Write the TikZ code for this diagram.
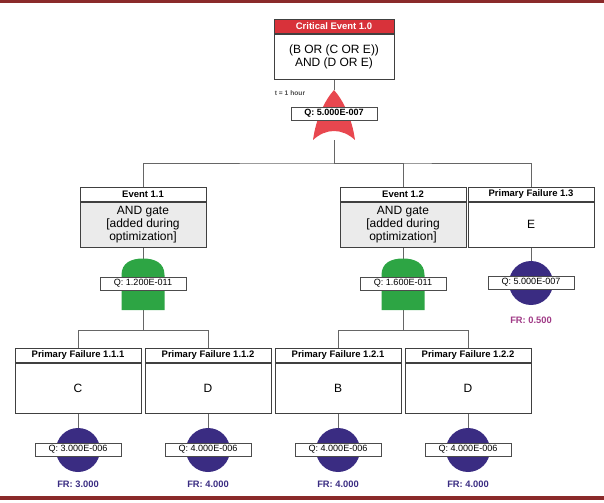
\documentclass[tikz,border=0pt]{standalone}
\usepackage{fontspec}
\setmainfont{Liberation Sans}
\usetikzlibrary{backgrounds}
\begin{document}
\begin{tikzpicture}[x=0.75pt,y=-0.75pt,
  hdr/.style={draw=black!75,line width=0.6pt,fill=white,minimum width=94.5pt,minimum height=10.5pt,inner sep=0pt,font=\fontsize{7.1}{8}\selectfont\bfseries},
  bodyg/.style={draw=black!75,line width=0.6pt,fill=black!8!white,minimum width=94.5pt,minimum height=33.75pt,inner sep=0pt,font=\fontsize{9}{9.6}\selectfont,align=center,anchor=north},
  bodyw/.style={bodyg,fill=white},
  bodyb/.style={bodyw,minimum height=37.5pt},
  qbox/.style={draw=black!70,line width=0.5pt,fill=white,minimum width=64.5pt,minimum height=9.8pt,inner sep=0pt,font=\fontsize{6.8}{7}\selectfont},
  gnode/.style={inner sep=0pt,minimum width=32pt,minimum height=37.5pt},
  circ/.style={circle,fill=basic,draw=none,minimum size=33pt,inner sep=0pt},
  fr/.style={font=\fontsize{7}{8}\selectfont\bfseries,text=basic},
  wire/.style={draw=black!60,line width=0.7pt}]
\definecolor{crit}{HTML}{D8323A}
\definecolor{orred}{HTML}{E8474F}
\definecolor{andg}{HTML}{2DA544}
\definecolor{basic}{HTML}{3A2C82}
\definecolor{frm}{HTML}{A03A86}
\definecolor{band}{HTML}{8A2A2A}
\useasboundingbox (0,0) rectangle (604,503);
\fill[band] (0,0) rectangle (604,3);
\fill[band] (0,496) rectangle (604,500);
% top
\node[hdr,fill=crit,text=white,minimum width=90pt,anchor=north] (ceh) at (334,19) {Critical Event 1.0};
\node[bodyw,minimum width=90pt] (ceb) at (ceh.south) {(B OR (C OR E))\\AND (D OR E)};
\node[gnode] (g0) at (334,115) {};
\fill[orred] (313,140) .. controls (316,118) and (325,100) .. (334,90) .. controls (343,100) and (352,118) .. (355,140) .. controls (342,128) and (326,128) .. (313,140);
\node[qbox] (q0) at (334,113.5) {\bfseries Q: 5.000E-007};
\node[font=\fontsize{5}{6}\selectfont\bfseries,text=black!70] (t0) at (290,93) {t = 1 hour};
\coordinate (bus0) at (334,163);
% level 1
\node[hdr,anchor=north] (e11h) at (143,187) {Event 1.1};
\node[bodyg] (e11b) at (e11h.south) {AND gate\\{[}added during\\optimization{]}};
\node[hdr,anchor=north] (e12h) at (403,187) {Event 1.2};
\node[bodyg] (e12b) at (e12h.south) {AND gate\\{[}added during\\optimization{]}};
\node[hdr,anchor=north] (p13h) at (531,187) {Primary Failure 1.3};
\node[bodyw] (p13b) at (p13h.south) {E};
% AND gates
\foreach \n/\x in {g11/143,g12/403}{
  \node[gnode] (\n) at (\x,284.5) {};
  \fill[andg] (\x-21.5,310) -- (\x-21.5,275) .. controls (\x-21.5,263) and (\x-12,258.5) .. (\x,258.5) .. controls (\x+12,258.5) and (\x+21.5,263) .. (\x+21.5,275) -- (\x+21.5,310) -- cycle;
}
\node[qbox] at (143,283.5) {Q: 1.200E-011};
\node[qbox] at (403,283.5) {Q: 1.600E-011};
% basic 1.3
\node[circ] (c13) at (531,283) {};
\node[qbox] at (531,282.5) {Q: 5.000E-007};
\node[fr,text=frm] at (531,320) {FR: 0.500};
\coordinate (bus1) at (143,330);
\coordinate (bus2) at (403,330);
\begin{pgfonlayer}{background}
\draw[wire] (ceb.south) -- (g0.north);
\draw[wire] (g0.south) -- (bus0);
\draw[wire] (e11h.north) |- (bus0) -| (p13h.north);
\draw[wire] (bus0) -| (e12h.north);
\draw[wire] (e11b.south) -- (g11.north);
\draw[wire] (e12b.south) -- (g12.north);
\draw[wire] (p13b.south) -- (c13.north);
\draw[wire] (g11.south) -- (bus1);
\draw[wire] (g12.south) -- (bus2);
\end{pgfonlayer}
% level 2
\foreach \n/\x/\t/\l/\q/\f/\b in {a/78/1.1.1/C/3.000E-006/3.000/bus1, b/208/1.1.2/D/4.000E-006/4.000/bus1, c/338/1.2.1/B/4.000E-006/4.000/bus2, d/468/1.2.2/D/4.000E-006/4.000/bus2}{
  \node[hdr,anchor=north] (\n h) at (\x,348) {Primary Failure \t};
  \node[bodyb] (\n b) at (\n h.south) {\l};
  \node[circ] (\n c) at (\x,450) {};
  \node[qbox] at (\x,449.5) {Q: \q};
  \node[fr] at (\x,484) {FR: \f};
  \begin{pgfonlayer}{background}
  \draw[wire] (\n b.south) -- (\n c.north);
  \draw[wire] (\b) -| (\n h.north);
  \end{pgfonlayer}
}
\end{tikzpicture}
\end{document}
